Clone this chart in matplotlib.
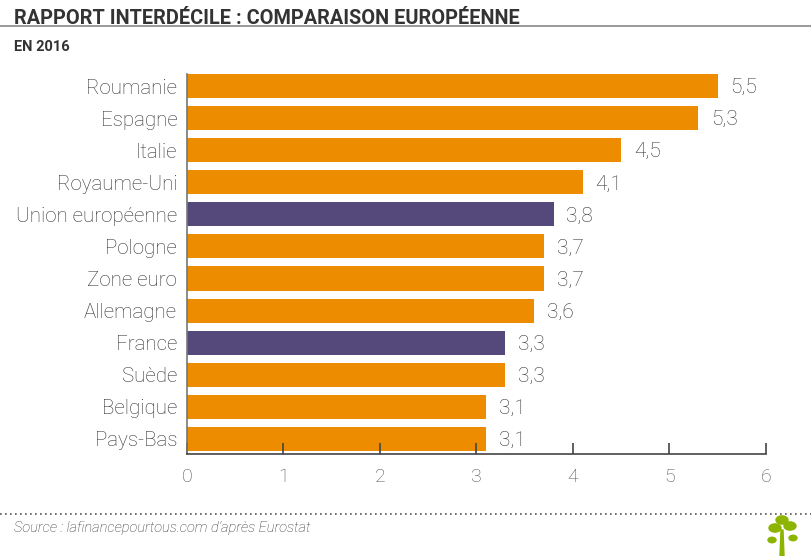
import matplotlib
matplotlib.use("Agg")
import matplotlib.pyplot as plt
from matplotlib.lines import Line2D
from matplotlib.patches import Circle, Polygon

countries = ["Roumanie", "Espagne", "Italie", "Royaume-Uni", "Union européenne",
             "Pologne", "Zone euro", "Allemagne", "France", "Suède", "Belgique", "Pays-Bas"]
values = [5.5, 5.3, 4.5, 4.1, 3.8, 3.7, 3.7, 3.6, 3.3, 3.3, 3.1, 3.1]
highlight = ["Union européenne", "France"]
xticks = [0, 1, 2, 3, 4, 5, 6]

ORANGE = "#EE8C00"
PURPLE = "#55487A"
TXT = "#333333"

plt.rcParams['font.family'] = ['Roboto', 'DejaVu Sans']

fig = plt.figure(figsize=(8.12, 5.56), dpi=100)
ax = fig.add_axes([187/812, 1-454/556, (766-187)/812, (454-74)/556])

n = len(countries)
ypos = [n - 1 - i for i in range(n)]
colors = [PURPLE if c in highlight else ORANGE for c in countries]
ax.barh(ypos, values, height=0.75, color=colors, edgecolor='none')
for y, v in zip(ypos, values):
    ax.text(v + 0.13, y - 0.05, f"{v:.1f}".replace(".", ","), va='center', ha='left',
            fontsize=15, color=TXT, fontweight='light')

ax.set_xlim(0, 6)
ax.set_ylim(-0.47, n - 1 + 0.375)
ax.set_yticks(ypos)
ax.set_yticklabels(countries, fontsize=14.8, color=TXT, fontweight='light')
for lab in ax.get_yticklabels():
    lab.set_y(lab.get_position()[1])
ax.set_xticks(xticks)
ax.set_xticklabels([str(t) for t in xticks], fontsize=14, color='#555555', fontweight='light')
ax.tick_params(axis='y', length=0, pad=7)
ax.tick_params(axis='x', direction='in', length=8, width=1.2, color='#444444', pad=10)
for s in ['top', 'right']:
    ax.spines[s].set_visible(False)
ax.spines['bottom'].set_color('#444444')
ax.spines['bottom'].set_linewidth(1.2)
ax.spines['left'].set_color('#777777')
ax.spines['left'].set_linewidth(1.2)

# Title block
fig.text(14/812, 1-18/556, "RAPPORT INTERDÉCILE : COMPARAISON EUROPÉENNE",
         fontsize=14.3, fontweight='bold', color=TXT, va='center', ha='left')
fig.add_artist(Line2D([0, 1], [1-26/556, 1-26/556], color='#888888', lw=1.2))
fig.text(14/812, 1-47/556, "EN 2016", fontsize=10.5, fontweight='bold', color=TXT,
         va='center', ha='left')

# Footer
fig.add_artist(Line2D([0, 1], [1-514/556, 1-514/556], color='#555555', lw=1.2,
                      linestyle=(0, (1, 2))))
fig.text(14/812, 1-528/556, "Source : lafinancepourtous.com d\u2019après Eurostat",
         fontsize=10.5, style='italic', color=TXT, fontweight='light', va='center', ha='left')

# small tree logo
GREEN = "#8CB400"
fig.add_artist(Polygon([[780/812, 1-556/556], [784/812, 1-556/556], [783/812, 1-530/556],
                        [781/812, 1-530/556]], closed=True, transform=fig.transFigure,
                       color=GREEN))
for cx, cy, r in [(775, 528, 6), (790, 526, 6), (782, 520, 6), (772, 540, 4), (793, 538, 4)]:
    fig.add_artist(Circle((cx/812, 1-cy/556), r/812, transform=fig.transFigure, color=GREEN))

fig.savefig("out.png", dpi=100)
